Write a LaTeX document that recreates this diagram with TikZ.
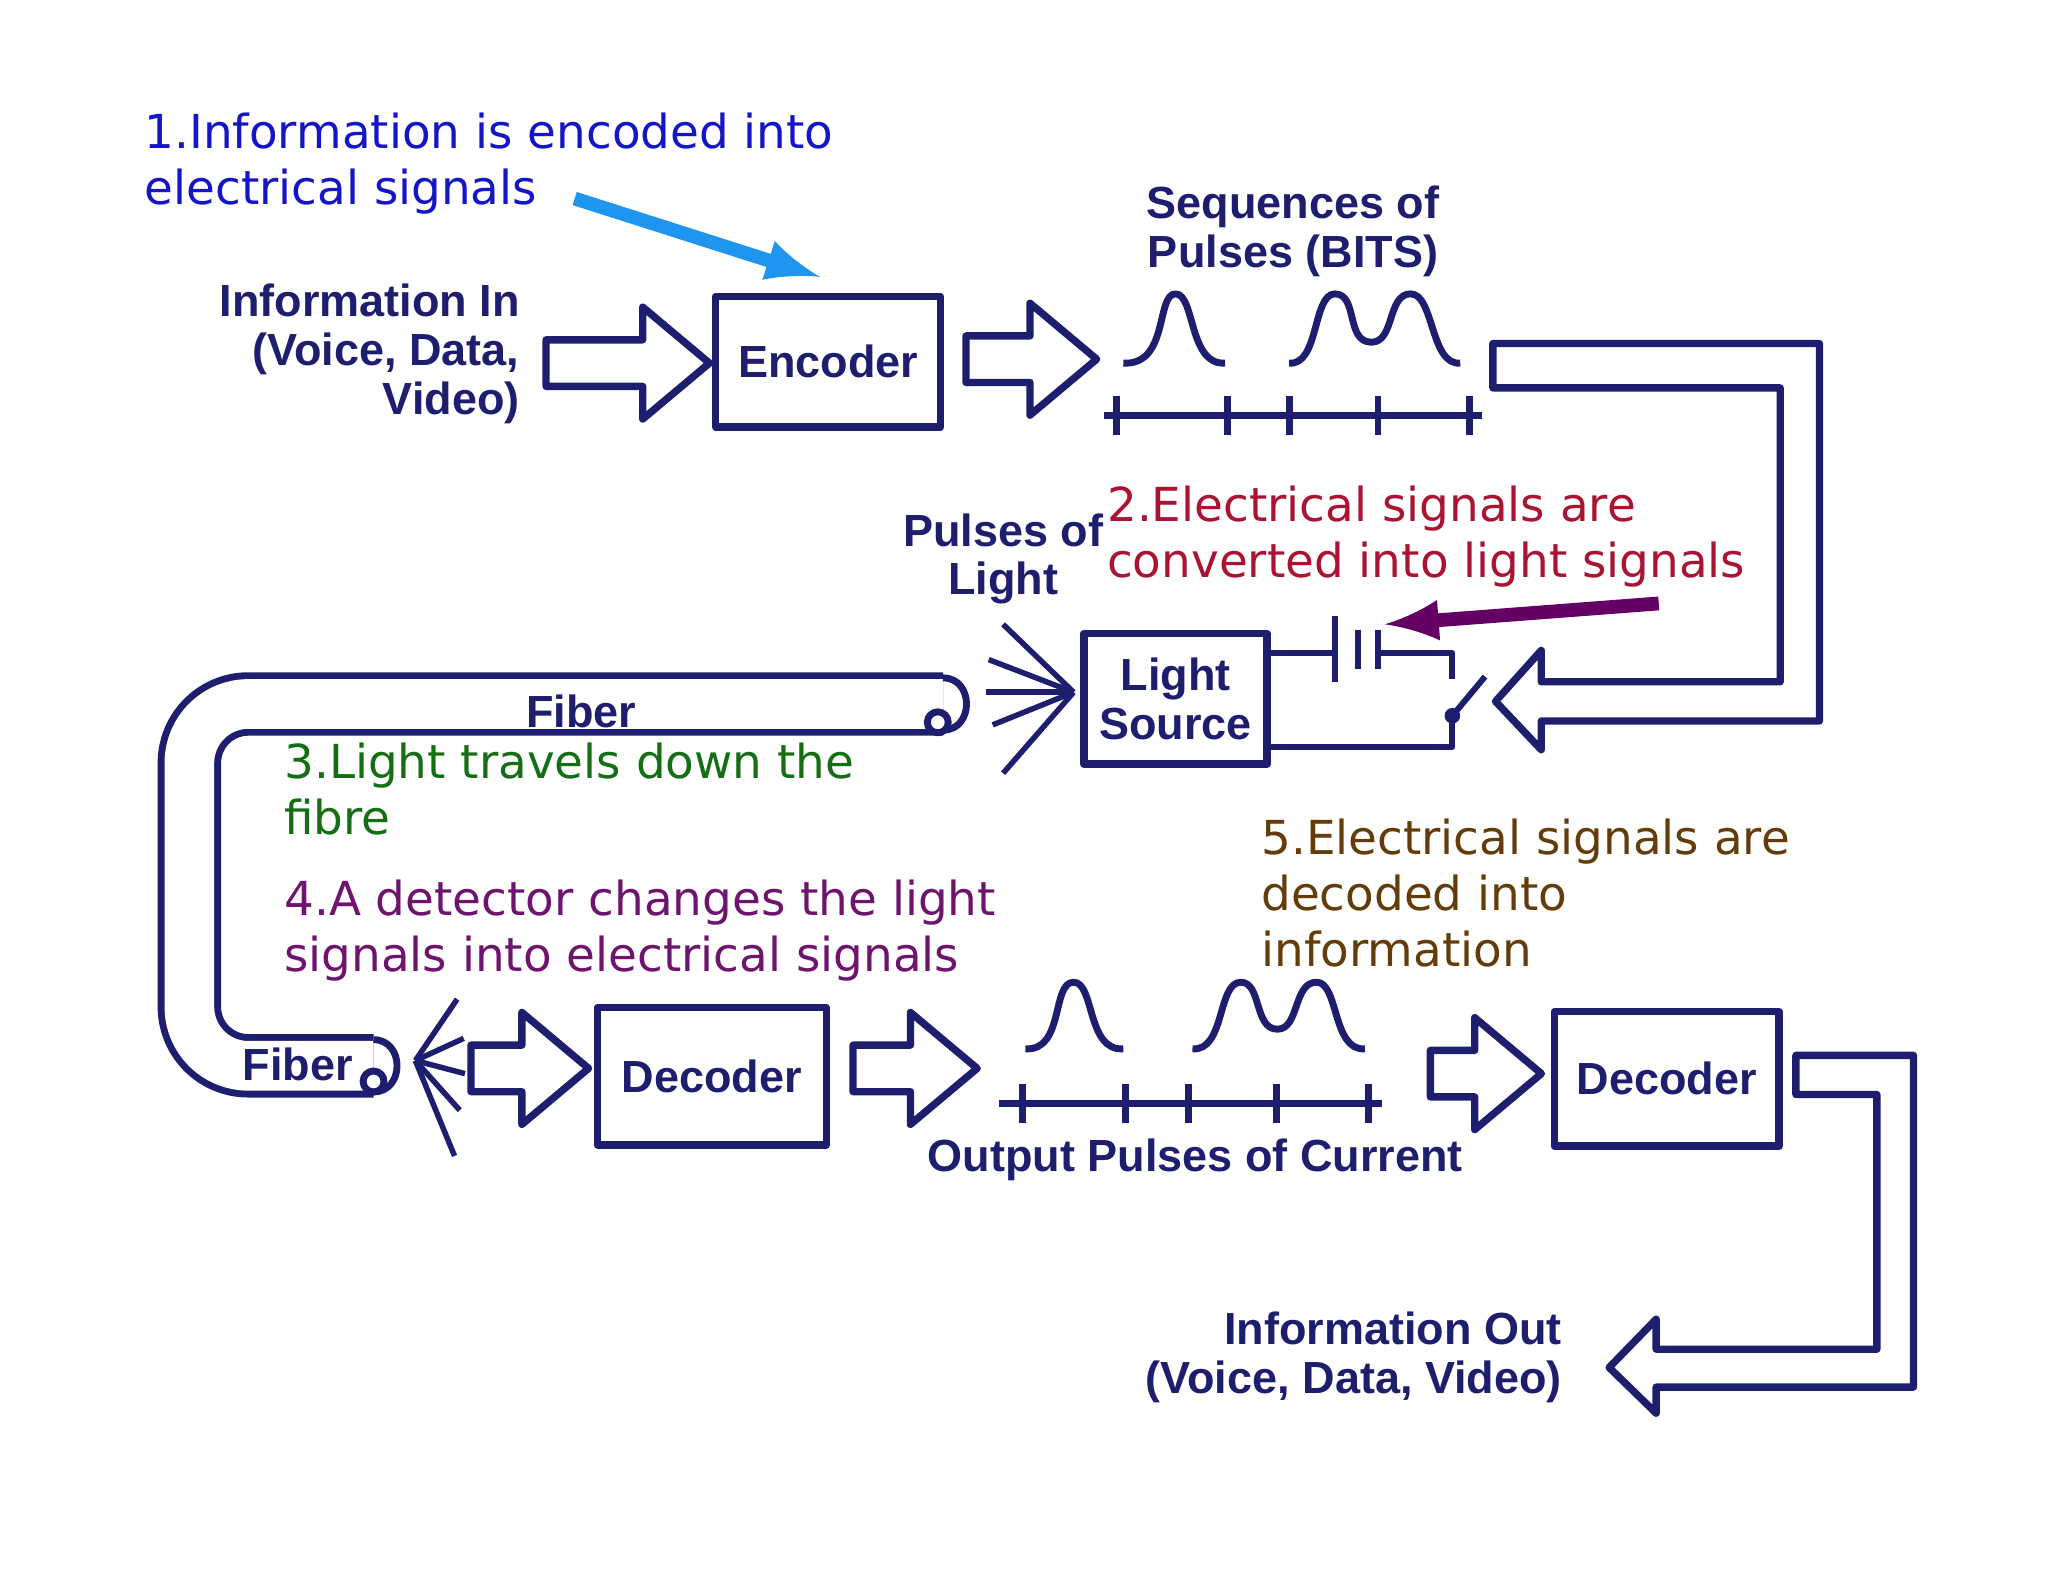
\documentclass[tikz,border=0pt]{standalone}
\usepackage{fontspec}
\setmainfont{DejaVu Sans}
\newfontfamily\labelfont{Liberation Sans}
\usetikzlibrary{shapes.arrows,positioning}
\definecolor{navy}{RGB}{30,30,110}
\definecolor{note1}{RGB}{20,20,200}
\definecolor{note2}{RGB}{170,20,50}
\definecolor{note3}{RGB}{20,110,20}
\definecolor{note4}{RGB}{110,20,110}
\definecolor{note5}{RGB}{100,60,10}
\definecolor{arrowcyan}{RGB}{30,150,240}
\definecolor{arrowpurple}{RGB}{100,0,100}

\begin{document}
\begin{tikzpicture}[
    x=0.01cm, y=-0.01cm,
    line join=round,
    lbl/.style={font=\labelfont\bfseries\fontsize{9.8}{10.6}\selectfont,text=navy,align=center,inner sep=1pt},
    note/.style={font=\fontsize{10.2}{12.2}\selectfont,align=left,anchor=north west,inner sep=0pt},
    box/.style={draw=navy,line width=1.6pt,font=\labelfont\bfseries\fontsize{9.8}{10.6}\selectfont,text=navy,align=center},
    hollow/.style={single arrow,draw=navy,line width=1.6pt,minimum height=#1,
        minimum width=0.8cm,single arrow head extend=0.25cm,inner sep=0.15cm,
        single arrow tip angle=80},
    wire/.style={navy,line width=1.3pt},
    ray/.style={navy,line width=1.2pt},
    pulse/.style={navy,line width=1.5pt}
]
\useasboundingbox (0,0) rectangle (1568,1212);

% Notes
\node[note,text=note1] (n1) at (110,86) {1.Information is encoded into\\electrical signals};
\node[note,text=note2] (n2) at (847,371) {2.Electrical signals are\\converted into light signals};
\node[note,text=note3] (n3) at (217,568) {3.Light travels down the\\fibre};
\node[note,text=note4] (n4) at (217,673) {4.A detector changes the light\\signals into electrical signals};
\node[note,text=note5] (n5) at (965,626) {5.Electrical signals are\\decoded into\\information};

% Top row
\node[lbl,align=right,anchor=east] (infoin) at (402,271) {Information In\\(Voice, Data,\\Video)};
\node[hollow=1.25cm] (a1) at (470,278) {};
\node[box,minimum width=1.72cm,minimum height=1cm] (enc) at (634,277) {Encoder};
\node[hollow=1cm] (a2) at (779,275) {};
\node[lbl] (seq) at (990,177) {Sequences of\\Pulses (BITS)};
\coordinate (cyanstart) at (440,152);
\coordinate (cyanend) at (628,212);
\draw[arrowcyan,line width=3pt,-latex] (cyanstart) -- (cyanend);

% Bits
\draw[pulse] (845,318) -- (1135,318);
\foreach \t in {855,940,987,1055,1125} \draw[pulse] (\t,303) -- (\t,333);
\draw[pulse] (860,278) .. controls (895,280) and (885,225) .. (900,225) .. controls (915,225) and (910,280) .. (938,278);
\draw[pulse] (987,278) .. controls (1010,280) and (1005,225) .. (1022,225) .. controls (1040,225) and (1030,262) .. (1050,262)
  .. controls (1068,262) and (1062,225) .. (1080,225) .. controls (1098,225) and (1095,280) .. (1118,278);

% U arrow to light source
\draw[navy,line width=1.6pt] (1143,263) -- (1393,263) -- (1393,552) -- (1180,552) -- (1180,574) -- (1145,537)
  -- (1180,498) -- (1180,522) -- (1363,522) -- (1363,297) -- (1143,297) -- cycle;

% Light source and circuit
\node[box,minimum width=1.4cm,minimum height=1cm] (src) at (900,535) {Light\\Source};
\node[lbl] (pol) at (768,428) {Pulses of\\Light};
\coordinate (bat) at (1022,500);
\coordinate (sw) at (1112,548);
\draw[wire] (src.east |- bat) -- (bat) (1022,472) -- (1022,522) (1040,482) -- (1040,512) (1055,482) -- (1055,512)
  (1055,500) -- (1112,500) -- (1112,520);
\draw[wire] (src.east |- 0,572) -- (1112,572) -- (sw);
\fill[navy] (sw) circle (6);
\draw[wire] (sw) -- (1137,518);
\coordinate (purplestart) at (1270,462);
\coordinate (purpleend) at (1060,478);
\draw[arrowpurple,line width=3pt,-latex] (purplestart) -- (purpleend);
\coordinate (emit) at (822,530);
\foreach \p in {(768,478),(757,505),(755,530),(760,555),(768,592)} \draw[ray] (emit) -- \p;

% Fibre
\draw[navy,line width=1.5pt,double=white,double distance=0.38cm,rounded corners=0.45cm] (722,539) -- (145,539) -- (145,816) -- (286,816);
\draw[navy,line width=1.5pt] (722,519) .. controls (746,519) and (746,559) .. (722,559);
\draw[navy,line width=1.5pt] (286,796) .. controls (310,796) and (310,836) .. (286,836);
\draw[navy,line width=1.5pt,fill=white] (718,553) circle (8);
\draw[navy,line width=1.5pt,fill=white] (286,828) circle (8);
\node[lbl] (fib1) at (445,545) {Fiber};
\node[lbl] (fib2) at (228,815) {Fiber};

% Bottom row
\coordinate (det) at (318,812);
\foreach \p in {(350,765),(355,795),(356,822),(352,850),(348,885)} \draw[ray] (det) -- \p;
\node[hollow=0.9cm] (a3) at (395,818) {};
\node[box,minimum width=1.75cm,minimum height=1.05cm] (dec1) at (545,824) {Decoder};
\node[hollow=0.95cm] (a4) at (690,818) {};
\draw[pulse] (765,845) -- (1058,845);
\foreach \t in {783,862,910,977,1048} \draw[pulse] (\t,830) -- (\t,860);
\draw[pulse] (785,803) .. controls (815,805) and (805,752) .. (822,752) .. controls (838,752) and (832,805) .. (860,803);
\draw[pulse] (913,803) .. controls (938,805) and (932,752) .. (950,752) .. controls (966,752) and (960,788) .. (978,788)
  .. controls (995,788) and (990,752) .. (1008,752) .. controls (1025,752) and (1020,805) .. (1045,803);
\node[lbl] (opc) at (915,888) {Output Pulses of Current};
\node[hollow=0.85cm] (a5) at (1127,822) {};
\node[box,minimum width=1.72cm,minimum height=1.03cm] (dec2) at (1276,826) {Decoder};

% L arrow out
\draw[navy,line width=1.6pt] (1375,808) -- (1465,808) -- (1465,1062) -- (1268,1062) -- (1268,1082) -- (1232,1047)
  -- (1268,1010) -- (1268,1033) -- (1437,1033) -- (1437,838) -- (1375,838) -- cycle;
\node[lbl,align=right,anchor=east] (infoout) at (1200,1039) {Information Out\\(Voice, Data, Video)};
\end{tikzpicture}
\end{document}
